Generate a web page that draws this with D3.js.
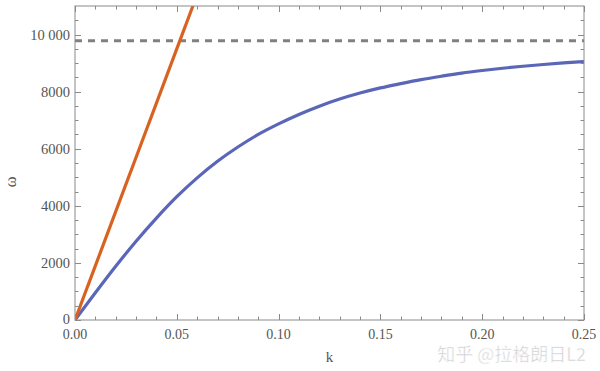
<!DOCTYPE html>
<html><head><meta charset="utf-8">
<script src="https://cdn.jsdelivr.net/npm/d3@7"></script>
<style>body{margin:0;background:#fff}svg{display:block}</style>
</head><body>
<svg id="c" width="600" height="371"></svg>
<script>
// Data
const kValues = [0,0.01,0.02,0.03,0.04,0.05,0.06,0.07,0.08,0.09,0.10,0.11,0.12,0.13,0.14,0.15,0.16,0.17,0.18,0.19,0.20,0.21,0.22,0.23,0.24,0.25];
const omegaCurve = [0,954,1882,2760,3571,4320,4980,5560,6060,6500,6870,7200,7490,7740,7950,8130,8280,8420,8540,8650,8740,8820,8890,8950,9005,9056];
const lineK = [0, 0.06];
const lineOmega = [0, 11400];
const asymptote = 9780;
const xTicks = [0,0.05,0.10,0.15,0.20,0.25];
const yTicks = [0,2000,4000,6000,8000,10000];
const xLabel = "k", yLabel = "ω";
const watermark = "知乎 @拉格朗日L2";

const svg = d3.select("#c");
const L=75, R=584, T=6, B=320;
const x = d3.scaleLinear().domain([0,0.25]).range([L,R]);
const y = d3.scaleLinear().domain([0,11000]).range([B,T]);
const frameColor="#8a8a8a", textColor="#555";
const font="'Liberation Serif','DejaVu Serif',serif";

svg.append("defs").append("clipPath").attr("id","clip").append("rect")
  .attr("x",L).attr("y",T).attr("width",R-L).attr("height",B-T);

const plot = svg.append("g").attr("clip-path","url(#clip)");
plot.append("line").attr("x1",x(0)).attr("x2",x(0.25)).attr("y1",y(asymptote)).attr("y2",y(asymptote))
  .attr("stroke","#808080").attr("stroke-width",3).attr("stroke-dasharray","7,6");
const line = d3.line().x(d=>x(d[0])).y(d=>y(d[1])).curve(d3.curveMonotoneX);
plot.append("path").datum(kValues.map((k,i)=>[k,omegaCurve[i]]))
  .attr("d",line).attr("fill","none").attr("stroke","#5a66b8").attr("stroke-width",3.2);
plot.append("path").datum(lineK.map((k,i)=>[k,lineOmega[i]]))
  .attr("d",d3.line().x(d=>x(d[0])).y(d=>y(d[1]))).attr("fill","none").attr("stroke","#d8621f").attr("stroke-width",3.2);

svg.append("rect").attr("x",L).attr("y",T).attr("width",R-L).attr("height",B-T)
  .attr("fill","none").attr("stroke",frameColor).attr("stroke-width",1);

const xMinor = d3.range(0,0.2501,0.01);
const yMinor = d3.range(0,11000,500);
const tg = svg.append("g").attr("stroke",frameColor).attr("stroke-width",1);
xMinor.forEach(v=>{
  const major = xTicks.some(t=>Math.abs(t-v)<1e-6);
  const len = major?6:3.5;
  const px = Math.round(x(v))+0.5;
  tg.append("line").attr("x1",px).attr("x2",px).attr("y1",B).attr("y2",B-len);
  tg.append("line").attr("x1",px).attr("x2",px).attr("y1",T).attr("y2",T+len);
});
yMinor.forEach(v=>{
  const major = yTicks.includes(v);
  const len = major?6:3.5;
  const py = Math.round(y(v))+0.5;
  tg.append("line").attr("y1",py).attr("y2",py).attr("x1",L).attr("x2",L+len);
  tg.append("line").attr("y1",py).attr("y2",py).attr("x1",R).attr("x2",R-len);
});

svg.append("g").selectAll("text").data(xTicks).join("text")
  .attr("x",d=>x(d)).attr("y",B+18.5).attr("text-anchor","middle")
  .attr("font-family",font).attr("font-size",14).attr("fill",textColor)
  .text(d=>d.toFixed(2));
svg.append("g").selectAll("text").data(yTicks).join("text")
  .attr("x",L-5).attr("y",d=>y(d)+(d===0?3.5:5)).attr("text-anchor","end")
  .attr("font-family",font).attr("font-size",14.5).attr("fill",textColor)
  .text(d=>d>=10000? d3.format(",")(d).replace(","," ") : String(d));

svg.append("text").attr("x",(L+R)/2).attr("y",362).attr("text-anchor","middle")
  .attr("font-family",font).attr("font-size",15).attr("fill",textColor).text(xLabel);
svg.append("text").attr("transform","translate(16,182) rotate(-90)").attr("text-anchor","middle")
  .attr("font-family",font).attr("font-size",17).attr("fill",textColor).text(yLabel);

svg.append("text").attr("x",586).attr("y",361).attr("text-anchor","end")
  .attr("font-family","'Noto Sans CJK SC',sans-serif").attr("font-size",18)
  .attr("fill","#c8c8c8").attr("stroke","#fff").attr("stroke-width",0.5).attr("opacity",0.9).text(watermark);
</script>
</body></html>
